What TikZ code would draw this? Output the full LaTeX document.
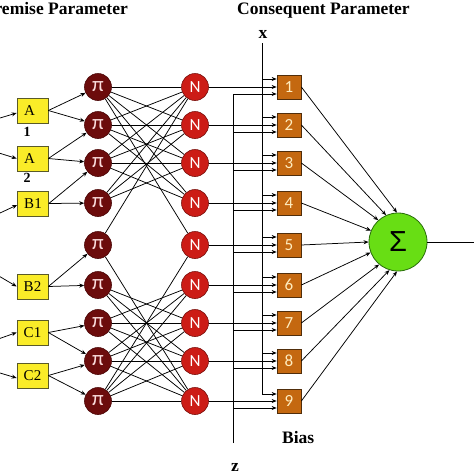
\documentclass[tikz,border=0pt]{standalone}
\usepackage{fontspec}
\setmainfont{Liberation Serif}
\newfontfamily\sansf{Liberation Sans}
\newfontfamily\calib{Carlito}
\usetikzlibrary{arrows.meta,calc}
\definecolor{picol}{RGB}{108,12,12}
\definecolor{nred}{RGB}{204,28,22}
\definecolor{ybox}{RGB}{250,236,40}
\definecolor{yborder}{RGB}{90,90,40}
\definecolor{cbrown}{RGB}{196,104,16}
\definecolor{cborder}{RGB}{80,45,10}
\definecolor{cream}{RGB}{255,236,190}
\definecolor{sgreen}{RGB}{104,222,20}
\definecolor{sborder}{RGB}{40,110,10}
\tikzset{
  pinode/.style={circle, minimum size=27pt, inner sep=0pt, fill=picol, draw=picol!70!black, line width=0.6pt, text={rgb,255:red,250;green,220;blue,220}, font=\calib\fontsize{21}{21}\selectfont},
  nnode/.style={circle, minimum size=27pt, inner sep=0pt, fill=nred, draw=nred!60!black, line width=0.6pt, text=white, font=\calib\fontsize{17}{17}\selectfont},
  yrect/.style={rectangle, minimum width=31pt, minimum height=25pt, inner sep=0pt, fill=ybox, draw=yborder, line width=0.7pt, font=\fontsize{15}{15}\selectfont},
  cbox/.style={rectangle, minimum width=24pt, minimum height=24pt, inner sep=0pt, fill=cbrown, draw=cborder, line width=0.7pt, text=cream, font=\calib\fontsize{17}{17}\selectfont},
  sumnode/.style={circle, minimum size=58pt, inner sep=0pt, fill=sgreen, draw=sborder, line width=0.8pt, font=\sansf\fontsize{29}{29}\selectfont},
  lbl/.style={inner sep=0pt, font=\bfseries\fontsize{17.5}{17.5}\selectfont},
  sublbl/.style={inner sep=0pt, font=\bfseries\fontsize{14}{14}\selectfont},
  arr/.style={-{Stealth[length=5pt,width=4pt]}, line width=0.75pt},
  ln/.style={line width=0.75pt}
}
\begin{document}
\begin{tikzpicture}[x=1pt,y=-1pt]
\useasboundingbox (0,0) rectangle (474,474);
\clip (0,0) rectangle (474,474);
\fill[white] (0,0) rectangle (474,474);

% titles
\node[lbl, anchor=base east] (tprem) at (128,14) {Premise Parameter};
\node[lbl, anchor=base west] (tcons) at (237,14) {Consequent Parameter};
\node[lbl, anchor=base] (xl) at (263,38) {x};
\node[lbl, anchor=base] (zl) at (235,471) {z};
\node[lbl, anchor=base west] (bias) at (282,443) {Bias};

% premise boxes
\node[yrect] (A1) at (32.5,110.5) {A\kern6pt};
\node[yrect] (A2) at (32.5,158.5) {A\kern6pt};
\node[yrect] (B1) at (33,203.5) {B1};
\node[yrect] (B2) at (32.5,286.5) {B2};
\node[yrect] (C1) at (32.5,332.5) {C1};
\node[yrect] (C2) at (32.5,375.5) {C2};
\node[sublbl] (s1) at (27,132) {1};
\node[sublbl] (s2) at (27,178) {2};

% inputs from the left (cropped)
\coordinate (iA1) at (-30,127);
\coordinate (iA2) at (-30,144);
\coordinate (iB1) at (-30,227);
\coordinate (iB2) at (-30,259);
\coordinate (iC1) at (-30,349);
\coordinate (iC2) at (-30,364);
\draw[arr] (iA1) -- ($(A1.west)+(0,2.5)$);
\draw[arr] (iA2) -- (A2.west);
\draw[arr] (iB1) -- ($(B1.west)+(0,1.5)$);
\draw[arr] (iB2) -- (B2.west);
\draw[arr] (iC1) -- (C1.west);
\draw[arr] (iC2) -- ($(C2.west)+(0,2.5)$);

% layers
\foreach \i/\y in {1/87,2/125,3/163,4/203,5/245,6/285,7/323,8/361,9/401}{
  \node[pinode] (p\i) at (98,\y) {π};
  \node[nnode] (n\i) at (195,\y) {N};
  \node[cbox] (c\i) at (289,\y) {\i};
}
\node[sumnode] (sum) at (398,242) {Σ};

% box -> pi
\draw[arr] (A1.east) -- (p1);
\draw[arr] (A1.east) -- (p2);
\draw[arr] (A2.east) -- (p2);
\draw[arr] (A2.east) -- (p3);
\draw[arr] (B1.east) -- (p3);
\draw[arr] (B1.east) -- (p4);
\draw[arr] (B2.east) -- (p5);
\draw[arr] (B2.east) -- (p6);
\draw[arr] (C1.east) -- (p7);
\draw[arr] (C1.east) -- (p8);
\draw[arr] (C2.east) -- (p8);
\draw[arr] (C2.east) -- (p9);

% pi -> N mesh
\foreach \i in {1,2,3}{\foreach \j in {1,2,3,4}{\draw[ln] (p\i) -- (n\j);}}
\foreach \j in {1,2,3}{\draw[ln] (p4) -- (n\j);}
\foreach \i in {7,8,9}{\foreach \j in {6,7,8,9}{\draw[ln] (p\i) -- (n\j);}}
\foreach \j in {7,8,9}{\draw[ln] (p6) -- (n\j);}
\draw[ln] (p1) -- (n5);
\draw[ln] (p5) -- (n1);
\draw[ln] (p5) -- (n9);
\draw[ln] (p9) -- (n5);

% x and z lines
\coordinate (xtop) at (262,43);
\coordinate (zbot) at (233,443);
\path (c9.west) ++(0,-7) coordinate (c9t);
\path (c1.west) ++(0,7) coordinate (c1b);
\coordinate (xcor) at (xtop |- c9t);
\coordinate (zcor) at (zbot |- c1b);
\draw[ln] (xtop) -- (xcor);
\draw[ln] (zbot) -- (zcor);
\draw[arr] (xcor) -- (c9t);
\draw[arr] (zcor) -- (c1b);
\foreach \i in {1,...,8}{
  \path (c\i.west) ++(0,-8) coordinate (ct\i);
  \draw[arr] (xtop |- ct\i) -- (ct\i);
}
\foreach \i in {2,...,9}{
  \path (c\i.west) ++(0,7) coordinate (cb\i);
  \draw[arr] (zbot |- cb\i) -- (cb\i);
}
\foreach \i in {1,...,9}{\draw[arr] (n\i) -- (c\i);}

% consequent -> sum
\foreach \i/\a in {1/92,2/114,3/132,4/157,5/180,6/201,7/230,8/253,9/268}{
  \draw[arr] (c\i.east) -- (sum.\a);
}
\coordinate (out) at (480,242);
\draw[ln] (sum.east) -- (out);
\end{tikzpicture}
\end{document}
